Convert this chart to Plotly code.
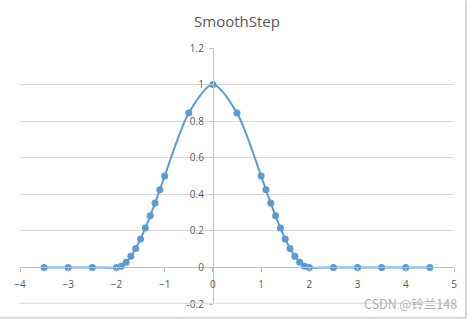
import plotly.graph_objects as go

x_vals = [-3.5, -3, -2.5, -2, -1.9, -1.8, -1.7, -1.6, -1.5, -1.4, -1.3, -1.2, -1.1, -1,
          -0.5, 0, 0.5,
          1, 1.1, 1.2, 1.3, 1.4, 1.5, 1.6, 1.7, 1.8, 1.9, 2, 2.5, 3, 3.5, 4, 4.5]
y_vals = [0, 0, 0, 0, 0.007, 0.028, 0.061, 0.104, 0.156, 0.216, 0.282, 0.352, 0.425, 0.5,
          0.844, 1, 0.844,
          0.5, 0.425, 0.352, 0.282, 0.216, 0.156, 0.104, 0.061, 0.028, 0.007, 0, 0, 0, 0, 0, 0]

x_ticks = [-4, -3, -2, -1, 0, 1, 2, 3, 4, 5]
y_ticks = [-0.2, 0, 0.2, 0.4, 0.6, 0.8, 1, 1.2]
y_tick_text = ["-0.2", "0", "0.2", "0.4", "0.6", "0.8", "1", "1.2"]

blue = "#5B9BD5"
txt = "#595959"
font_family = "Open Sans, Liberation Sans, sans-serif"

fig = go.Figure()
fig.add_trace(go.Scatter(
    x=x_vals, y=y_vals, mode="lines+markers",
    line=dict(color=blue, width=2, shape="spline", smoothing=0.8),
    marker=dict(color=blue, size=7),
    showlegend=False, cliponaxis=False,
))

W, H = 474, 323
ml, mr, mt, mb = 20, 20, 48, 16
pw, ph = W - ml - mr, H - mt - mb
ymin, ymax = y_ticks[0], y_ticks[-1]

fig.update_layout(
    width=W, height=H,
    margin=dict(l=ml, r=mr, t=mt, b=mb),
    paper_bgcolor="white", plot_bgcolor="white",
    title=dict(text="SmoothStep", x=0.5, xanchor="center", y=1 - 22 / H, yanchor="middle",
               font=dict(family=font_family, size=15, color=txt)),
    xaxis=dict(range=[-4, 5], tickvals=x_ticks, showgrid=False, zeroline=False,
               showline=True, linecolor="#BFBFBF", linewidth=1,
               ticks="outside", ticklen=4, tickcolor="#BFBFBF", ticklabelstandoff=4,
               anchor="free", position=(0 - ymin) / (ymax - ymin),
               tickfont=dict(family=font_family, size=10, color=txt)),
    yaxis=dict(range=[ymin, ymax], tickvals=y_ticks, ticktext=y_tick_text,
               showgrid=True, gridcolor="#D9D9D9", zeroline=False,
               showline=True, linecolor="#BFBFBF", linewidth=1,
               ticks="outside", ticklen=4, tickcolor="#BFBFBF", ticklabelstandoff=3,
               anchor="free", position=4 / 9,
               tickfont=dict(family=font_family, size=10, color=txt)),
    shapes=[
        # bottom gridline at -0.2 (plotly skips the edge gridline)
        dict(type="line", xref="paper", yref="paper", x0=0, x1=1, y0=0.003, y1=0.003,
             line=dict(color="#D6D6D6", width=1), layer="above"),
        # outer chart border remnants (right and bottom)
        dict(type="line", xref="paper", yref="paper",
             x0=(466 - ml) / pw, x1=(466 - ml) / pw,
             y0=(H - mb - 321) / ph, y1=(H - mb) / ph,
             line=dict(color="#D6D6D6", width=2), layer="above"),
        dict(type="line", xref="paper", yref="paper",
             x0=-ml / pw, x1=(466 - ml) / pw,
             y0=(H - mb - 321) / ph, y1=(H - mb - 321) / ph,
             line=dict(color="#D6D6D6", width=2), layer="above"),
    ],
)

fig.add_annotation(
    text="CSDN @铃兰148", xref="paper", yref="paper",
    x=(459 - ml) / pw, y=(H - mb - 306) / ph,
    xanchor="right", yanchor="middle", showarrow=False,
    font=dict(family="Noto Sans CJK SC, sans-serif", size=12.5, color="rgba(150,150,150,0.75)"),
)

fig.write_html("out.html")
